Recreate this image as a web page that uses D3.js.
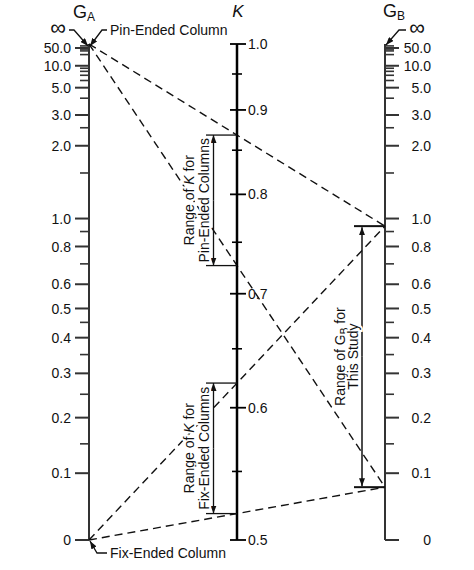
<!DOCTYPE html>
<html>
<head>
<meta charset="utf-8">
<script src="https://cdn.jsdelivr.net/npm/d3@7"></script>
<style>
  body { margin: 0; background: #fff; }
  text { font-family: "Liberation Sans", Arial, sans-serif; fill: #111; }
</style>
</head>
<body>
<script>
// tick values on the G scales
const gMajor = [0, 0.1, 0.2, 0.3, 0.4, 0.5, 0.6, 0.8, 1.0, 2.0, 3.0, 5.0, 10.0, 50.0];
const gMinor = [0.15, 0.25, 0.35, 0.45, 0.7, 0.9, 1.5, 2.5, 4, 6, 7, 8, 9, 20, 30, 40, 100];
// tick values on the K scale
const kMajor = [0.5, 0.6, 0.7, 0.8, 0.9, 1.0];
const kMinor = [0.55, 0.65, 0.75, 0.85, 0.95];
// G_A end conditions: pin-ended (infinite) and fix-ended (zero)
const gaEnds = [Infinity, 0];
// range of G_B used in this study
const gbRange = [0.078, 0.94];

const width = 474, height = 570;
const xA = 89, xK = 237, xB = 385;

const svg = d3.select("body").append("svg")
    .attr("width", width)
    .attr("height", height);

// fraction along the G scale (0 at G=0, 1 at G=infinity)
const gFrac = g => g === Infinity ? 1 : (g <= 0 ? 0 : 1 / (1 + 0.543 * Math.pow(g, -1.073)));
const y = d3.scaleLinear().domain([0, 1]).range([540, 44]);
const yG = g => y(gFrac(g));

// K scale: for G_A = G_B = G the line is level, so K sits where G does (braced frame)
function gForK(k) {
    if (k >= 1) return Infinity;
    if (k <= 0.5) return 0;
    const a = Math.PI / k;
    const A = a * a / 4, B = 1 - a / Math.tan(a), C = 2 * Math.tan(a / 2) / a - 1;
    return (-B + Math.sqrt(B * B - 4 * A * C)) / (2 * A);
}
const yK = k => yG(gForK(k));

const fmtG = g => g === 0 ? "0" : d3.format(".1f")(g);

svg.append("defs").append("marker")
    .attr("id", "arr")
    .attr("viewBox", "0 0 8 6")
    .attr("refX", 8)
    .attr("refY", 3)
    .attr("orient", "auto")
    .attr("markerUnits", "userSpaceOnUse")
    .attr("markerWidth", 8)
    .attr("markerHeight", 6)
    .append("path")
    .attr("d", "M0,0L8,3L0,6Z")
    .attr("fill", "#111");

// ---- G scales ----
function gAxis(x, side) {
    const g = svg.append("g");
    g.append("line")
        .attr("x1", x).attr("x2", x)
        .attr("y1", yG(Infinity)).attr("y2", yG(0))
        .attr("stroke", "#333").attr("stroke-width", 2);
    g.selectAll(".minor").data(gMinor).join("line")
        .attr("x1", x).attr("x2", x + side * 9)
        .attr("y1", d => yG(d)).attr("y2", d => yG(d))
        .attr("stroke", "#333").attr("stroke-width", 1.6);
    g.selectAll(".major").data(gMajor).join("line")
        .attr("x1", x).attr("x2", x + side * 14)
        .attr("y1", d => yG(d)).attr("y2", d => yG(d))
        .attr("stroke", "#333").attr("stroke-width", 2);
    g.selectAll("text").data(gMajor).join("text")
        .attr("x", side < 0 ? x - 18 : x + 46)
        .attr("y", d => yG(d))
        .attr("dy", "0.36em")
        .attr("text-anchor", "end")
        .attr("font-size", 14)
        .text(fmtG);
}
gAxis(xA, -1);
gAxis(xB, 1);

// ---- dashed alignment lines ----
const lines = [];
gaEnds.forEach(ga => gbRange.forEach(gb => lines.push({ ga, gb })));
svg.selectAll(".align").data(lines).join("line")
    .attr("x1", xA).attr("y1", d => yG(d.ga))
    .attr("x2", xB).attr("y2", d => yG(d.gb))
    .attr("stroke", "#111").attr("stroke-width", 1.4)
    .attr("stroke-dasharray", "8,5");

// ---- K scale ----
const kg = svg.append("g");
kg.append("line")
    .attr("x1", xK).attr("x2", xK)
    .attr("y1", yK(1)).attr("y2", yK(0.5))
    .attr("stroke", "#000").attr("stroke-width", 2.5);
kg.selectAll(".minor").data(kMinor).join("line")
    .attr("x1", xK - 5).attr("x2", xK + 5)
    .attr("y1", d => yK(d)).attr("y2", d => yK(d))
    .attr("stroke", "#000").attr("stroke-width", 1.6);
kg.selectAll(".major").data(kMajor).join("line")
    .attr("x1", xK - 7).attr("x2", xK + 9)
    .attr("y1", d => yK(d)).attr("y2", d => yK(d))
    .attr("stroke", "#000").attr("stroke-width", 1.8);
kg.selectAll("text").data(kMajor).join("text")
    .attr("x", xK + 11)
    .attr("y", d => yK(d))
    .attr("dy", "0.36em")
    .attr("font-size", 14)
    .text(d => d3.format(".1f")(d));

// ---- titles ----
const tA = svg.append("text").attr("x", 73).attr("y", 18).attr("font-size", 18);
tA.append("tspan").text("G");
tA.append("tspan").attr("font-size", 12).attr("dy", 3).text("A");
const tB = svg.append("text").attr("x", 383).attr("y", 17).attr("font-size", 18);
tB.append("tspan").text("G");
tB.append("tspan").attr("font-size", 12).attr("dy", 3).text("B");
svg.append("text").attr("x", xK + 1).attr("y", 17)
    .attr("text-anchor", "middle").attr("font-size", 17)
    .attr("font-style", "italic").text("K");

// K where a line crosses the middle scale
const yCross = (ga, gb) => yG(ga) + (yG(gb) - yG(ga)) * (xK - xA) / (xB - xA);

// ---- dimension bars ----
function dimension(x, y1, y2, extFrom, extTo) {
    const g = svg.append("g");
    [y1, y2].forEach(yy => g.append("line")
        .attr("x1", extFrom).attr("x2", extTo)
        .attr("y1", yy).attr("y2", yy)
        .attr("stroke", "#111").attr("stroke-width", 1.3));
    const mid = (y1 + y2) / 2;
    g.append("line").attr("x1", x).attr("x2", x).attr("y1", mid).attr("y2", y1)
        .attr("stroke", "#111").attr("stroke-width", 1.3).attr("marker-end", "url(#arr)");
    g.append("line").attr("x1", x).attr("x2", x).attr("y1", mid).attr("y2", y2)
        .attr("stroke", "#111").attr("stroke-width", 1.3).attr("marker-end", "url(#arr)");
}

function rotText(x, cy, parts) {
    const t = svg.append("text")
        .attr("transform", `translate(${x},${cy}) rotate(-90)`)
        .attr("text-anchor", "middle")
        .attr("font-size", 14)
        .attr("stroke", "#fff")
        .attr("stroke-width", 4)
        .attr("paint-order", "stroke");
    parts.forEach(p => {
        const s = t.append("tspan").text(p.t);
        if (p.i) s.attr("font-style", "italic");
        if (p.sub) s.attr("font-size", 10).attr("dy", 3);
        if (p.up) s.attr("dy", -3);
    });
}

// pin-ended
const pinTop = yCross(gaEnds[0], gbRange[1]), pinBot = yCross(gaEnds[0], gbRange[0]);
dimension(213.5, pinTop, pinBot, 206, xK);
rotText(194, (pinTop + pinBot) / 2, [{ t: "Range of  " }, { t: "K", i: true }, { t: "  for" }]);
rotText(209, (pinTop + pinBot) / 2, [{ t: "Pin-Ended Columns" }]);

// fix-ended
const fixTop = yCross(gaEnds[1], gbRange[1]), fixBot = yCross(gaEnds[1], gbRange[0]);
dimension(213.5, fixTop, fixBot, 206, xK);
rotText(194, (fixTop + fixBot) / 2, [{ t: "Range of  " }, { t: "K", i: true }, { t: "  for" }]);
rotText(209, (fixTop + fixBot) / 2, [{ t: "Fix-Ended Columns" }]);

// G_B range
const gbTop = yG(gbRange[1]), gbBot = yG(gbRange[0]);
svg.append("g").call(g => {
    [gbTop, gbBot].forEach(yy => g.append("line")
        .attr("x1", 354).attr("x2", xB).attr("y1", yy).attr("y2", yy)
        .attr("stroke", "#111").attr("stroke-width", 2));
    const mid = (gbTop + gbBot) / 2;
    g.append("line").attr("x1", 362).attr("x2", 362).attr("y1", mid).attr("y2", gbTop + 1)
        .attr("stroke", "#111").attr("stroke-width", 1.5).attr("marker-end", "url(#arr)");
    g.append("line").attr("x1", 362).attr("x2", 362).attr("y1", mid).attr("y2", gbBot - 1)
        .attr("stroke", "#111").attr("stroke-width", 1.5).attr("marker-end", "url(#arr)");
});
rotText(345, (gbTop + gbBot) / 2, [{ t: "Range of G" }, { t: "B", sub: true }, { t: " for", up: true }]);
rotText(358, (gbTop + gbBot) / 2, [{ t: "This Study" }]);

// ---- end-condition callouts ----
const lead = (pts) => svg.append("path")
    .attr("d", d3.line()(pts))
    .attr("fill", "none").attr("stroke", "#111").attr("stroke-width", 1.3)
    .attr("marker-end", "url(#arr)");

svg.append("text").attr("x", 58).attr("y", 34.5).attr("text-anchor", "middle")
    .attr("font-size", 22).text("\u221E");
lead([[69, 30], [74, 30], [88, yG(Infinity) + 2]]);
svg.append("text").attr("x", 110).attr("y", 35).attr("font-size", 14).text("Pin-Ended Column");
lead([[107, 30], [102, 30], [90, yG(Infinity) + 2]]);

svg.append("text").attr("x", 417).attr("y", 34.5).attr("text-anchor", "middle")
    .attr("font-size", 22).text("\u221E");
lead([[406, 30], [399, 30], [386, yG(Infinity) + 1]]);

svg.append("text").attr("x", 110).attr("y", 558).attr("font-size", 14).text("Fix-Ended Column");
lead([[107, 553], [97, 553], [90, yG(0) + 1]]);
</script>
</body>
</html>
